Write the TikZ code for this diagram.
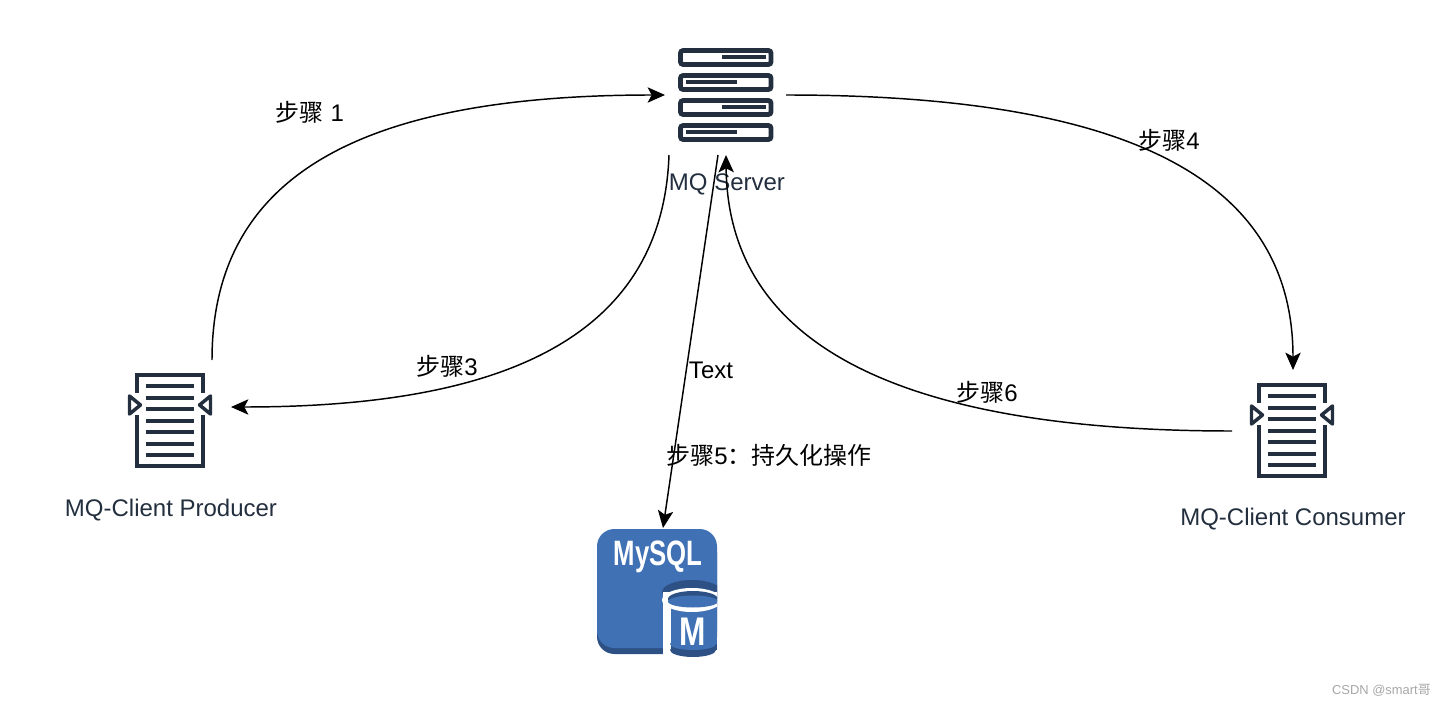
\documentclass[tikz,border=0pt]{standalone}
\usepackage{fontspec}
\setmainfont{Liberation Sans}
\newfontfamily\cjk{Noto Sans CJK SC}
\usetikzlibrary{arrows.meta}
\definecolor{icondark}{HTML}{232F3E}
\definecolor{sqlblue}{HTML}{4071B4}
\definecolor{sqldark}{HTML}{2E5185}
\tikzset{
    flow/.style={-{Stealth[length=13pt,width=11.5pt,inset=3pt]}, line width=1.1pt, black},
    iconline/.style={icondark, line width=3pt},
    iconlabel/.style={icondark, font=\fontsize{18}{20}\selectfont},
    steplabel/.style={black, font=\fontsize{18}{20}\selectfont},
    clientdoc/.pic={
        \draw[iconline](-33,-27)--(-33,-45)--(33,-45)--(33,-27);
        \draw[iconline](-33,-5)--(-33,46)--(33,46)--(33,-5);
        \draw[iconline, line width=2.6pt, line join=round](-40.5,-24)--(-29.5,-15)--(-40.5,-6)--cycle;
        \draw[iconline, line width=2.6pt, line join=round](40.5,-24)--(29.5,-15)--(40.5,-6)--cycle;
        \foreach \y in {-34,-22.5,-11,1,12,24,35}
            \draw[iconline](-24,\y)--(24,\y);
    }
}
\begin{document}
\begin{tikzpicture}[x=0.75pt, y=-0.75pt]
    \useasboundingbox(0,0)rectangle(1446,706);

    \foreach \y/\a/\b in {50.5/722/766, 75.5/686/737, 100.5/722/766, 125.5/686/737}{
        \draw[iconline, line width=3.6pt, rounded corners=2pt](680.5,\y)rectangle(771,\y+14);
        \draw[iconline](\a,\y+7)--(\b,\y+7);
    }
    \node[iconlabel](serverlabel)at(727,184){MQ Server};

    \pic at(170,420){clientdoc};
    \node[iconlabel](producerlabel)at(171,510){MQ-Client Producer};
    \pic at(1292,430){clientdoc};
    \node[iconlabel](consumerlabel)at(1293,519){MQ-Client Consumer};

    \begin{scope}
        \clip(597,529)rectangle(717,660);
        \fill[sqldark, rounded corners=13pt](597,535)rectangle(717,654);
        \fill[sqlblue, rounded corners=13pt](597,529)rectangle(717,648);
        \fill[sqldark](692,592)ellipse(30 and 12);
        \fill[white](662.5,592)rectangle(722,660);
        \fill[sqldark](670.5,604)rectangle(717,650);
        \fill[sqldark](693,650)ellipse(23 and 7);
        \fill[sqlblue](670.5,604)rectangle(717,644);
        \fill[sqlblue](693,644)ellipse(23 and 6);
        \fill[white](692,600)ellipse(30 and 12);
        \fill[sqldark](693,599)ellipse(25 and 8);
        \fill[sqlblue](693,601.5)ellipse(25 and 6);
    \end{scope}
    \node[white, font=\bfseries\fontsize{23}{25}\selectfont, xscale=0.84, yscale=1.15](sqlname)at(658,557){MySQL};
    \node[white, font=\bfseries\fontsize{25}{27}\selectfont, xscale=0.95, yscale=1.2](sqlmark)at(693,632){M};

    \coordinate(producerout)at(212,360);
    \coordinate(serverin)at(665,95);
    \coordinate(serverout)at(786,95);
    \coordinate(consumerin)at(1293,370);
    \coordinate(serverdown)at(669,155);
    \coordinate(producerin)at(231,407);
    \coordinate(consumerout)at(1232,431);
    \coordinate(serverback)at(726,155);
    \coordinate(serverdb)at(718,155);
    \coordinate(sqlin)at(663,528);

    \draw[flow](producerout)..controls(212,170)and(370,95)..(serverin);
    \draw[flow](serverout)..controls(1120,95)and(1293,175)..(consumerin);
    \draw[flow](serverdown)..controls(662,355)and(470,407)..(producerin);
    \draw[flow](consumerout)..controls(930,431)and(728,360)..(serverback);
    \draw[flow](serverdb)--(sqlin);

    \node[steplabel](stepone)at(310,112){{\cjk 步骤} 1};
    \node[steplabel](stepthree)at(447,366){{\cjk 步骤}3};
    \node[steplabel](stepfour)at(1169,140){{\cjk 步骤}4};
    \node[steplabel](stepsix)at(987,392){{\cjk 步骤}6};
    \node[steplabel](texttag)at(711,370){Text};
    \node[steplabel](stepfive)at(769,455){{\cjk 步骤}5{\cjk ：持久化操作}};

    \node[gray!70, font=\fontsize{9.7}{11}\selectfont, anchor=east, inner sep=0pt](mark)at(1431,690){CSDN @smart{\cjk 哥}};
\end{tikzpicture}
\end{document}
